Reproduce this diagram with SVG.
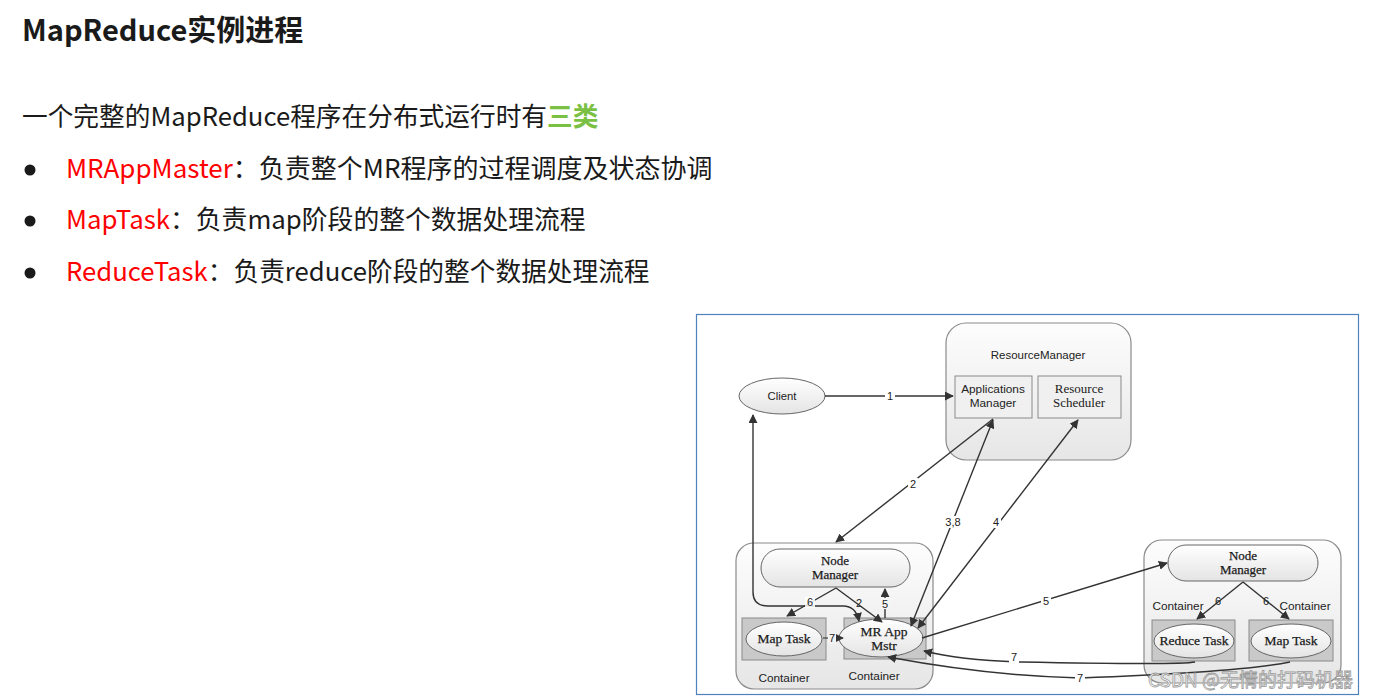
<svg xmlns="http://www.w3.org/2000/svg" width="1373" height="699" viewBox="0 0 1373 699">
<defs>
<linearGradient id="gBox" x1="0" y1="0" x2="0" y2="1"><stop offset="0" stop-color="#fdfdfd"/><stop offset="1" stop-color="#e6e6e6"/></linearGradient>
<linearGradient id="gEl" x1="0" y1="0" x2="0" y2="1"><stop offset="0" stop-color="#ffffff"/><stop offset="1" stop-color="#e4e4e4"/></linearGradient>
<marker id="ah" viewBox="0 0 10 10" refX="9" refY="5" markerWidth="9" markerHeight="9" markerUnits="userSpaceOnUse" orient="auto-start-reverse"><path d="M0,0 L10,5 L0,10 z" fill="#333"/></marker>
<style>
.cjk{font-family:"Noto Sans CJK SC","Noto Sans",sans-serif}
.sans{font-family:"Liberation Sans","DejaVu Sans",sans-serif;fill:#222}
.serif{font-family:"Liberation Serif","DejaVu Serif",serif;fill:#1a1a1a;stroke:#1a1a1a;stroke-width:0.25}
.grp{fill:url(#gBox);stroke:#8a8a8a;stroke-width:1.2}
.sub{fill:#f0f0f0;stroke:#8a8a8a;stroke-width:1}
.cont{fill:#c9c9c9;stroke:#8a8a8a;stroke-width:1}
.el{fill:url(#gEl);stroke:#666;stroke-width:1}
.ln{fill:none;stroke:#333;stroke-width:1.4;marker-end:url(#ah)}
.lbl{font-family:"Liberation Sans",sans-serif;font-size:11px;fill:#222;text-anchor:middle}
.bg{fill:#ffffff}
</style>
</defs>
<rect width="1373" height="699" fill="#ffffff"/>
<g id="text">
<text x="22" y="41" class="cjk" font-size="29" font-weight="bold" fill="#1a1a1a">MapReduce实例进程</text>
<text x="22" y="126" class="cjk" font-size="25.7" fill="#1a1a1a">一个完整的MapReduce程序在分布式运行时有<tspan fill="#7ac143" font-weight="bold">三类</tspan></text>
<circle cx="30" cy="170" r="5.5" fill="#1a1a1a"/>
<circle cx="30" cy="221" r="5.5" fill="#1a1a1a"/>
<circle cx="30" cy="273" r="5.5" fill="#1a1a1a"/>
<text x="66" y="178" class="cjk" font-size="26" fill="#1a1a1a"><tspan fill="#ff0000">MRAppMaster</tspan>：负责整个MR程序的过程调度及状态协调</text>
<text x="66" y="229" class="cjk" font-size="25.8" fill="#1a1a1a"><tspan fill="#ff0000">MapTask</tspan>：负责map阶段的整个数据处理流程</text>
<text x="66" y="281" class="cjk" font-size="25.7" fill="#1a1a1a"><tspan fill="#ff0000">ReduceTask</tspan>：负责reduce阶段的整个数据处理流程</text>
</g>
<rect id="frame" x="696.5" y="314.5" width="662" height="380" fill="#ffffff" stroke="#4f81bd" stroke-width="1.2"/>
<g id="rm">
<rect x="946" y="323" width="185" height="137" rx="20" class="grp"/>
<text x="1038" y="359" class="sans" font-size="11.5" text-anchor="middle">ResourceManager</text>
<rect x="955" y="376" width="77" height="42" class="sub"/>
<text x="993" y="393" class="sans" font-size="11.8" text-anchor="middle">Applications</text>
<text x="993" y="407" class="sans" font-size="11.8" text-anchor="middle">Manager</text>
<rect x="1038" y="376" width="83" height="42" class="sub"/>
<text x="1079" y="393" class="serif" font-size="13" text-anchor="middle" style="stroke-width:0">Resource</text>
<text x="1079" y="407" class="serif" font-size="13" text-anchor="middle" style="stroke-width:0">Scheduler</text>
</g>
<g id="client">
<ellipse cx="782" cy="396" rx="43" ry="18" class="el"/>
<text x="782" y="400" class="sans" font-size="11.3" text-anchor="middle">Client</text>
</g>
<g id="node1">
<rect x="736" y="543" width="197" height="146" rx="18" class="grp"/>
<rect x="761" y="549" width="149" height="38" rx="19" class="el"/>
<text x="835" y="565" class="serif" font-size="13" text-anchor="middle">Node</text>
<text x="835" y="579" class="serif" font-size="13" text-anchor="middle">Manager</text>
<rect x="742" y="618" width="84" height="42" class="cont"/>
<ellipse cx="784" cy="639" rx="38" ry="17" class="el"/>
<text x="784" y="643" class="serif" font-size="13.5" text-anchor="middle">Map Task</text>
<rect x="844" y="618" width="82" height="41" class="cont"/>
<ellipse cx="881" cy="638" rx="42" ry="19" class="el"/>
<text x="884" y="636" class="serif" font-size="13.5" text-anchor="middle">MR App</text>
<text x="884" y="650" class="serif" font-size="13.5" text-anchor="middle">Mstr</text>
<text x="784" y="682" class="sans" font-size="11.8" text-anchor="middle">Container</text>
<text x="874" y="680" class="sans" font-size="11.8" text-anchor="middle">Container</text>
</g>
<g id="node2">
<rect x="1144" y="540" width="197" height="143" rx="18" class="grp"/>
<rect x="1168" y="545" width="150" height="36" rx="18" class="el"/>
<text x="1243" y="560" class="serif" font-size="13" text-anchor="middle">Node</text>
<text x="1243" y="574" class="serif" font-size="13" text-anchor="middle">Manager</text>
<rect x="1152" y="620" width="83" height="41" class="cont"/>
<ellipse cx="1194" cy="641" rx="40" ry="17" class="el"/>
<text x="1194" y="645" class="serif" font-size="13.5" text-anchor="middle">Reduce Task</text>
<rect x="1249" y="620" width="84" height="41" class="cont"/>
<ellipse cx="1291" cy="641" rx="40" ry="17" class="el"/>
<text x="1291" y="645" class="serif" font-size="13.5" text-anchor="middle">Map Task</text>
<text x="1178" y="610" class="sans" font-size="11.8" text-anchor="middle">Container</text>
<text x="1305" y="610" class="sans" font-size="11.8" text-anchor="middle">Container</text>
</g>
<g id="connectors">
<path d="M825,396 L953,396" class="ln"/>
<path d="M993,419 L836,542" class="ln"/>
<path d="M911,626 L993,420" class="ln" marker-start="url(#ah)"/>
<path d="M918,628 L1078,420" class="ln" marker-start="url(#ah)"/>
<path d="M753,415 L753,592 Q753,606 768,606 L843,606 Q856,606 859,621" class="ln" marker-start="url(#ah)"/>
<path d="M836,588 L787,616" class="ln"/>
<path d="M836,588 L882,622" class="ln"/>
<path d="M885,618 L885,589" class="ln"/>
<path d="M823,638 L843,638" class="ln" style="stroke-width:1.1"/>
<path d="M922,638 L1167,563" class="ln"/>
<path d="M1243,582 L1197,619" class="ln"/>
<path d="M1243,582 L1289,619" class="ln"/>
<path d="M1195,662 Q1180,665 1020,662 Q960,660 924,651" class="ln"/>
<path d="M1290,662 Q1240,672 1080,678 Q990,676 888,657" class="ln"/>
</g>
<g id="labels">
<rect x="885" y="390" width="10" height="12" class="bg"/><text x="890" y="400" class="lbl">1</text>
<rect x="908" y="478" width="10" height="12" class="bg"/><text x="913" y="488" class="lbl">2</text>
<rect x="944" y="516" width="18" height="12" class="bg"/><text x="953" y="526" class="lbl">3,8</text>
<rect x="991" y="516" width="10" height="12" class="bg"/><text x="996" y="526" class="lbl">4</text>
<rect x="805" y="597" width="10" height="11" class="bg" opacity="0.85"/><text x="810" y="606" class="lbl">6</text>
<text x="859" y="607" class="lbl">2</text>
<rect x="880" y="598" width="10" height="11" fill="#f5f5f5"/><text x="885" y="608" class="lbl">5</text>
<rect x="828" y="633" width="8" height="11" fill="#f2f2f2"/><text x="832" y="642" class="lbl">7</text>
<rect x="1041" y="595" width="10" height="11" class="bg"/><text x="1046" y="605" class="lbl">5</text>
<text x="1218" y="605" class="lbl">6</text>
<text x="1266" y="605" class="lbl">6</text>
<rect x="1009" y="652" width="10" height="11" class="bg"/><text x="1014" y="661" class="lbl">7</text>
<rect x="1075" y="673" width="10" height="11" class="bg"/><text x="1080" y="682" class="lbl">7</text>
</g>
<text x="1148" y="687" class="cjk" font-size="19" fill="#ffffff" stroke="#9a9a9a" stroke-width="0.8">CSDN @无情的打码机器</text>
</svg>
